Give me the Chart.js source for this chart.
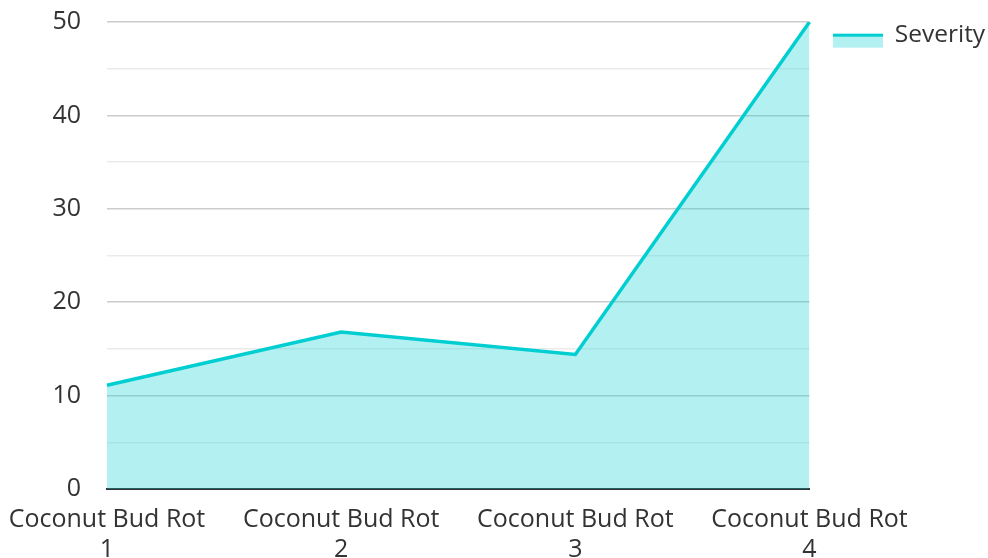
<!DOCTYPE html>
<html>
<head>
<meta charset="utf-8">
<script src="https://cdn.jsdelivr.net/npm/chart.js@4"></script>
<style>
  html, body { margin: 0; padding: 0; background: #fff; overflow: hidden; }
  #wrap { width: 988px; height: 581px; }
</style>
</head>
<body>
<div id="wrap"><canvas id="severity"></canvas></div>
<script>
// chart data
var categories = [
  ['Coconut Bud Rot', '1'],
  ['Coconut Bud Rot', '2'],
  ['Coconut Bud Rot', '3'],
  ['Coconut Bud Rot', '4']
];
var severity = [11.1, 16.8, 14.4, 50];
var yTicks = [0, 10, 20, 30, 40, 50];

var lineColor = '#00CED1';
var fillColor = 'rgba(0, 206, 209, 0.3)';

// legend swatch: thick line on top, fill below
var swatch = document.createElement('canvas');
swatch.width = 50;
swatch.height = 28;
var sctx = swatch.getContext('2d');
sctx.fillStyle = fillColor;
sctx.fillRect(0, 15, 50, 12);
sctx.fillStyle = lineColor;
sctx.fillRect(0, 13, 50, 3);

Chart.defaults.font.family = '"Open Sans", "Noto Sans", sans-serif';
Chart.defaults.color = '#333';

var ctx = document.getElementById('severity');
var chart = new Chart(ctx, {
  type: 'line',
  data: {
    labels: categories,
    datasets: [{
      label: 'Severity',
      data: severity,
      borderColor: lineColor,
      backgroundColor: fillColor,
      borderWidth: 3.5,
      fill: true,
      pointRadius: 0,
      pointStyle: swatch,
      tension: 0
    }]
  },
  options: {
    responsive: true,
    maintainAspectRatio: false,
    animation: false,
    layout: { padding: { top: 4, right: 1, left: 0, bottom: 0 } },
    plugins: {
      tooltip: { enabled: false },
      legend: {
        position: 'right',
        align: 'start',
        title: { display: true, text: ' ', font: { size: 7 }, padding: 0 },
        labels: {
          usePointStyle: true,
          pointStyleWidth: 50,
          font: { size: 24.5 },
          color: '#333',
          padding: 10
        }
      }
    },
    scales: {
      x: {
        offset: false,
        afterFit: function(s) { s.paddingLeft = 107; },
        grid: { display: false, drawTicks: false },
        border: { color: '#333', width: 2 },
        ticks: {
          font: { size: 25 },
          color: '#333',
          padding: 16,
          maxRotation: 0,
          autoSkip: false
        }
      },
      y: {
        min: 0,
        max: 50,
        border: { display: false },
        afterFit: function(s) { s.paddingTop = 22; },
        grid: {
          drawTicks: true,
          tickLength: 22,
          tickColor: 'rgba(0,0,0,0)',
          lineWidth: 1.5,
          color: function(c) {
            var v = c.tick ? c.tick.value : 0;
            return yTicks.indexOf(v) >= 0 ? 'rgba(0,0,0,0.2)' : 'rgba(0,0,0,0.08)';
          }
        },
        ticks: {
          stepSize: 5,
          font: { size: 25 },
          color: '#333',
          padding: 4,
          callback: function(v) {
            return yTicks.indexOf(v) >= 0 ? v : '';
          }
        }
      },
      gap: {
        position: 'right',
        display: true,
        grid: { display: false },
        border: { display: false },
        ticks: { display: false },
        afterFit: function(s) { s.width = 13; }
      }
    }
  }
});
</script>
</body>
</html>
